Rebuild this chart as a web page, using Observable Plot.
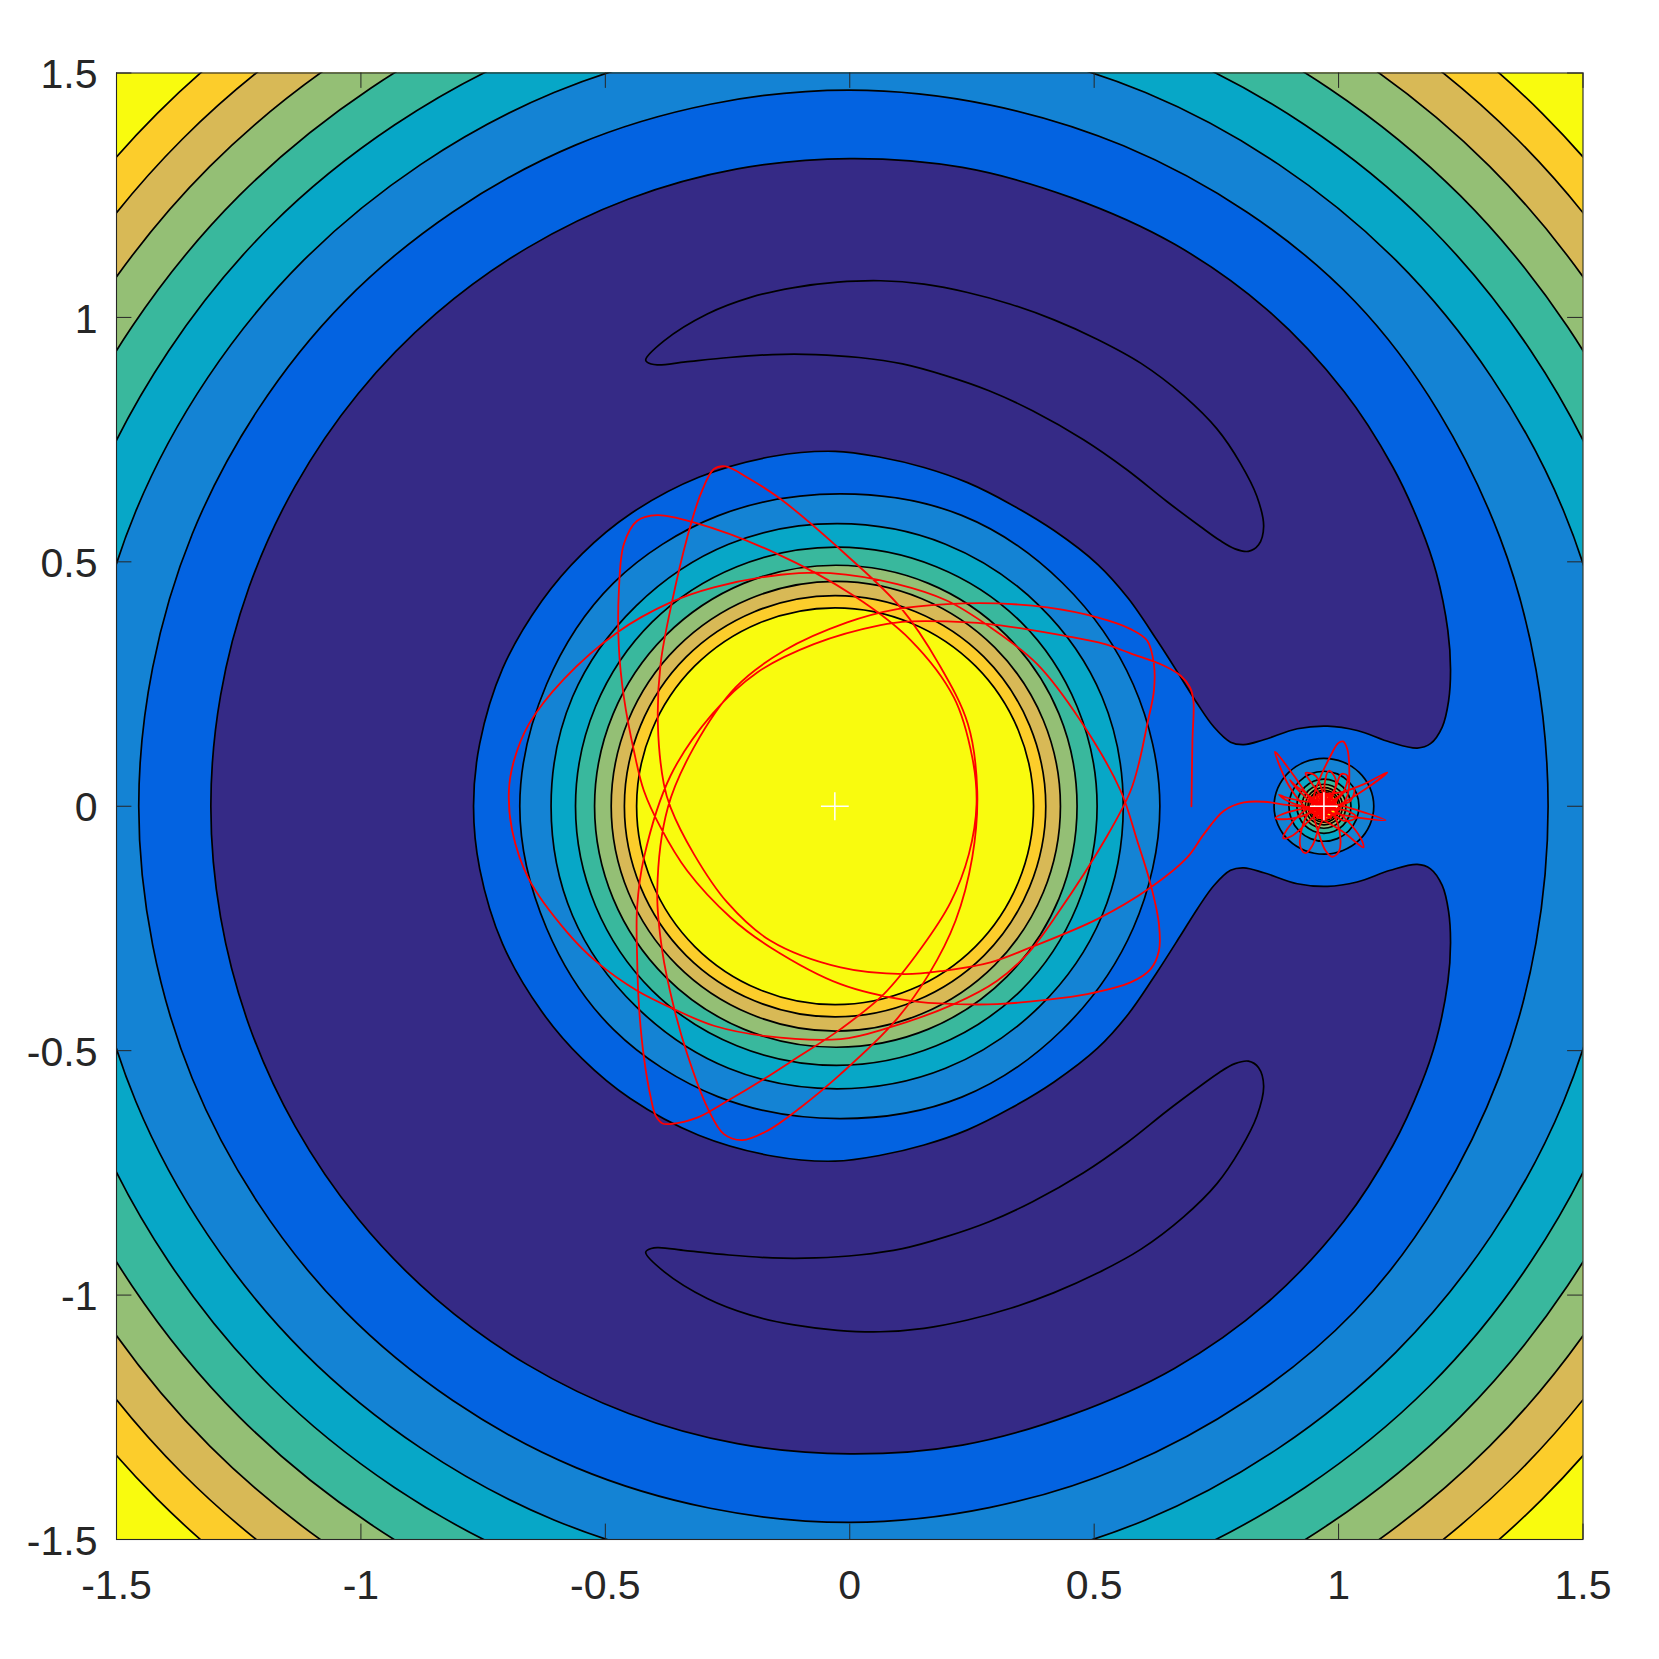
<!DOCTYPE html>
<html><head><meta charset="utf-8">
<style>html,body{margin:0;padding:0;background:#fff;overflow:hidden}</style>
<script src="https://cdn.jsdelivr.net/npm/d3@7"></script>
<script src="https://cdn.jsdelivr.net/npm/@observablehq/plot@0.6"></script>
</head><body><div id="chart"></div>
<script>
const tickValues=[-1.5,-1,-0.5,0,0.5,1,1.5];
const colors={yellow:"#f9fb0e",orange:"#fccd2b",tan:"#d8b956",green:"#94bf75",teal:"#39b89d",cyan:"#07a7c7",mid:"#1483d4",blue:"#0363e1",dark:"#352a86"};

// Upper halves of the contours; each is symmetric about y = 0
const outerOrange=[[2.004,0],[1.851,.767],[1.417,1.417],[.767,1.851],[0,2.004],[-.767,1.851],[-1.417,1.417],[-1.851,.767],[-2.004,0]];
const outerTan=[[1.93,0],[1.783,.739],[1.365,1.365],[.739,1.783],[0,1.93],[-.739,1.783],[-1.365,1.365],[-1.783,.739],[-1.93,0]];
const outerGreen=[[1.851,0],[1.71,.708],[1.309,1.309],[.708,1.71],[0,1.851],[-.708,1.71],[-1.309,1.309],[-1.71,.708],[-1.851,0]];
const outerTeal=[[1.767,0],[1.633,.676],[1.249,1.249],[.676,1.633],[0,1.767],[-.676,1.633],[-1.249,1.249],[-1.633,.676],[-1.767,0]];
const outerCyan=[[1.677,0],[1.549,.642],[1.186,1.186],[.642,1.549],[0,1.677],[-.642,1.549],[-1.186,1.186],[-1.549,.642],[-1.677,0]];
const outerMid=[[1.58,0],[1.46,.605],[1.117,1.117],[.605,1.46],[0,1.58],[-.605,1.46],[-1.117,1.117],[-1.46,.605],[-1.58,0]];
const outerBlue=[[1.4286,0],[1.33,.55],[1.033,1.033],[.56,1.351],[0,1.465],[-.56,1.353],[-1.033,1.033],[-1.345,.557],[-1.4545,0]];
const darkC=[[-1.307,0],[-1.2871,.227],[-1.2291,.4474],[-1.1345,.655],[-1.0058,.844],[-.8459,1.0081],[-.6595,1.1423],[-.4522,1.2423],[-.2299,1.3039],[0,1.325],[.2304,1.3068],[.4532,1.2451],[.664,1.15],[.853,1.0165],[1.0112,.8485],[1.111,.694],[1.1684,.5699],[1.2,.477],[1.2235,.36],[1.229,.28],[1.225,.215],[1.212,.162],[1.188,.128],[1.161,.119],[1.106,.131],[1.038,.155],[.977,.164],[.9155,.1585],[.847,.136],[.806,.126],[.779,.131],[.745,.162],[.711,.21],[.677,.264],[.629,.339],[.57,.425],[.507,.495],[.418,.564],[.329,.618],[.241,.662],[.152,.693],[.063,.714],[-.03,.726],[-.156,.716],[-.309,.673],[-.449,.598],[-.547,.517],[-.63,.42],[-.71,.282],[-.757,.128],[-.7696,0]];
const banana=[[-.4175,.913],[-.38,.952],[-.2915,1.007],[-.203,1.041],[-.114,1.061],[-.025,1.072],[.063,1.075],[.152,1.068],[.241,1.051],[.329,1.027],[.418,.995],[.507,.955],[.596,.906],[.683,.84],[.7512,.772],[.7989,.702],[.833,.6337],[.8467,.5723],[.8364,.5348],[.8155,.5215],[.788,.5265],[.756,.5445],[.7171,.5723],[.6488,.6234],[.567,.6883],[.4783,.7497],[.374,.809],[.285,.85],[.196,.881],[.108,.905],[.019,.918],[-.07,.924],[-.158,.924],[-.247,.918],[-.336,.909],[-.394,.903],[-.414,.908]];
const ringMid=[[.6344,0],[.58,.249],[.4347,.4572],[.229,.595],[-.02,.639],[-.27,.594],[-.483,.457],[-.62,.25],[-.675,0]];
const ringCyan=[[.5595,0],[.516,.224],[.388,.41],[.196,.536],[-.026,.578],[-.248,.536],[-.437,.41],[-.567,.224],[-.611,0]];
const ringTeal=[[.506,0],[.465,.204],[.35,.377],[.177,.49],[-.027,.53],[-.231,.49],[-.404,.377],[-.52,.204],[-.561,0]];
const ringGreen=[[.465,0],[.428,.189],[.321,.349],[.161,.456],[-.028,.493],[-.217,.456],[-.377,.349],[-.484,.189],[-.522,0]];
const ringTan=[[.431,0],[.396,.176],[.2965,.325],[.1475,.4246],[-.0285,.46],[-.2045,.4246],[-.3535,.325],[-.453,.176],[-.488,0]];
const ringOrange=[[.401,0],[.368,.165],[.275,.305],[.135,.398],[-.03,.431],[-.195,.398],[-.335,.305],[-.428,.165],[-.461,0]];
const ringYellow=[[.376,0],[.345,.155],[.257,.287],[.125,.375],[-.03,.406],[-.185,.375],[-.317,.287],[-.405,.155],[-.436,0]];
const moonMid=[[1.072,0],[1.0642,.0375],[1.0421,.0695],[1.009,.0905],[.97,.098],[.931,.0905],[.8979,.0695],[.8758,.0375],[.868,0]];
const moonCyan=[[1.0417,0],[1.0362,.0274],[1.0206,.0506],[.9974,.0662],[.97,.0716],[.9426,.0662],[.9194,.0506],[.9038,.0274],[.8984,0]];
const moonTeal=[[1.0253,0],[1.0211,.0212],[1.0091,.0391],[.9912,.0511],[.97,.0553],[.9488,.0511],[.9309,.0391],[.9189,.0212],[.9147,0]];
const moonGreen=[[1.015,0],[1.0116,.0172],[1.0018,.0318],[.9872,.0416],[.97,.045],[.9528,.0416],[.9382,.0318],[.9284,.0172],[.925,0]];
const moonTan=[[1.008,0],[1.0051,.0145],[.9969,.0269],[.9845,.0351],[.97,.038],[.9555,.0351],[.9431,.0269],[.9349,.0145],[.932,0]];
const moonOrange=[[1.0026,0],[1.0001,.0125],[.9931,.0231],[.9825,.0301],[.97,.0326],[.9575,.0301],[.9469,.0231],[.9399,.0125],[.9374,0]];
const moonYellow=[[.9987,0],[.9965,.011],[.9903,.0203],[.981,.0265],[.97,.0287],[.959,.0265],[.9497,.0203],[.9435,.011],[.9413,0]];

const primaries=[[-.0305,0],[.97,0]];

// Trajectory, read strand by strand
const pathLeg1=[[.699,0],[.701,.134],[.703,.216],[.696,.243],[.677,.267],[.643,.2875],[.5745,.3127],[.52,.332],[.438,.349],[.363,.362],[.281,.373],[.199,.378],[.124,.378],[.063,.3707],[-.0734,.3318],[-.1893,.2738],[-.2814,.1886],[-.3666,.0624],[-.421,-.105],[-.435,-.207],[-.435,-.309],[-.431,-.412],[-.421,-.514],[-.407,-.596],[-.397,-.633],[-.383,-.649],[-.3666,-.65],[-.312,-.637],[-.2506,-.603],[-.1756,-.558],[-.1074,-.514],[-.0188,-.4559],[.0698,-.3843],[.1448,-.2922],[.2062,-.1968],[.2437,-.0979],[.2594,.0044]];
const pathLeg2=[[.2506,.1],[.213,.2226],[.1244,.34],[.0084,.4305],[-.155,.5193],[-.3188,.5806],[-.3938,.5957],[-.4348,.584],[-.462,.5363],[-.4723,.4408],[-.4723,.3249],[-.462,.2226],[-.4416,.1135],[-.4211,.0317],[-.387,-.0433],[-.3325,-.132],[-.2438,-.2275],[-.162,-.2888],[-.0187,-.3639],[.1244,-.398],[.2199,-.4048],[.3017,-.4048],[.3972,-.3966],[.4858,-.3843],[.5745,-.3604],[.6154,-.3332],[.6325,-.2957],[.6325,-.2411],[.6154,-.1593],[.5881,-.0706],[.5541,.0317],[.4722,.1749],[.3835,.2908],[.2881,.3658],[.1994,.4204],[.097,.4545],[-.0393,.477]];
const pathLeg3=[[-.1415,.4736],[-.2779,.4477],[-.3666,.417],[-.4757,.3556],[-.5848,.2601],[-.6564,.168],[-.687,.093],[-.6973,.0317],[-.6905,-.0501],[-.6564,-.149],[-.578,-.258],[-.5166,-.3195],[-.4348,-.3775],[-.3597,-.415],[-.2779,-.449],[-.1756,-.4696],[-.0187,-.4764],[.0766,-.4539],[.213,-.4048],[.3017,-.357],[.3631,-.3025],[.4244,-.2206],[.5268,-.0604],[.5745,.0317],[.592,.09],[.6086,.168],[.6222,.2362],[.6222,.2908],[.6086,.3386],[.5745,.3624],[.5063,.3863],[.404,.4067],[.3017,.4149],[.1994,.4136],[.097,.4033]];
const pathLeg4=[[-.0052,.3761],[-.1347,.3181],[-.2336,.2431],[-.3189,.1204],[-.3721,-.0024],[-.3938,-.173],[-.3836,-.2957],[-.3597,-.4116],[-.3325,-.507],[-.2915,-.616],[-.2574,-.6708],[-.2199,-.683],[-.1688,-.664],[-.1006,-.6162],[-.0188,-.548],[.0903,-.4423],[.1619,-.3434],[.2164,-.2343],[.2506,-.1047],[.2608,.0317]];
const pathLeg5=[[.2417,.1681],[.1823,.2908],[.1039,.4067],[-.0052,.5124],[-.1415,.6284],[-.2097,.6727],[-.254,.6952],[-.2779,.6898],[-.305,.6386],[-.3325,.55],[-.3631,.4204],[-.387,.2908],[-.3925,.168],[-.3803,.0453],[-.3666,-.0024],[-.3188,-.0979],[-.2506,-.1968],[-.162,-.2752],[-.0187,-.3298],[.1111,-.3434],[.1926,-.3366],[.288,-.3195],[.3699,-.2888],[.5063,-.2309],[.6154,-.1661],[.69,-.105],[.7245,-.057],[.7655,-.0092],[.8064,.0078],[.8473,.0092],[.8814,.0044]];
const pathRosette=[[.9394,-.0038],[1.0178,-.0195],[1.0962,-.0283],[1.0246,-.0038],[.9735,.0112],[.9598,.0235],[1.0041,.0283],[1.0519,.0453],[1.0996,.0692],[1.0519,.033],[1.0041,.0044],[.9666,-.0079],[.9496,.0146],[.9598,.0521],[.9837,.1033],[.9987,.1285],[1.0089,.1326],[1.0178,.1169],[1.0219,.0726],[1.0178,.0214],[.9973,-.0058],[.97,-.0038],[.9462,.0112],[.9087,.0624],[.878,.1033],[.8698,.1115],[.878,.0862],[.8984,.0419],[.9291,.001],[.9666,-.0263],[1.011,-.0536],[1.0417,-.0788],[1.0505,-.0843],[1.0485,-.072],[1.0246,-.0368],[.9939,-.0092],[.9666,.0044],[.9496,-.0092],[.9598,-.057],[.9735,-.091],[.9871,-.1033],[1.0007,-.0925],[1.0028,-.057],[.9905,-.0195],[.9666,-.0011],[.9428,-.0092],[.9237,-.0502],[.9223,-.0843],[.9325,-.0959],[.9462,-.0808],[.9598,-.0433],[.9735,-.0092],[.953,.0044],[.9223,-.0155],[.895,-.0467],[.8868,-.0652],[.9053,-.0604],[.9394,-.03],[.9666,-.0038],[.9359,-.0038],[.895,-.0127],[.8712,-.0242],[.895,-.0263],[.9359,-.0161],[.9666,.0044],[.9223,.0112],[.8882,.0194],[.878,.0235],[.895,.0112],[.9359,-.0011],[.97,-.0011],[.9394,.0215],[.9087,.0453],[.9005,.0535],[.9155,.0351],[.953,.0044],[.97,.0078],[.9462,.0453],[.9325,.0678],[.953,.0624],[.9666,.0315],[.9735,.0044],[.9714,.0453],[.9803,.0726],[.9939,.0555],[.9871,.018],[.9714,-.0011],[.9939,.0385],[1.0055,.0658],[1.0178,.0624],[1.0076,.0249],[.9735,-.0024],[1.011,.0283],[1.0314,.0351],[1.0246,.0112],[.9803,-.0041],[1.0178,-.0093],[1.0369,-.0229],[1.011,-.0297],[.9755,-.0058],[.9905,-.0195],[.9564,.0211],[.9871,.0211],[.9496,-.0195],[.9939,.0041],[.9462,-.0041],[.9837,-.0195],[.9632,.0235],[.9428,.0075],[.9973,-.0061],[.97,-.027],[.97,.0249],[.9428,-.0095],[.996,.0112],[.9598,-.0242],[.9803,.0235],[.9462,.0146],[.9939,-.016]];
const pathCore=[[.998,0],[.9458,.014],[.984,-.0242],[.97,.028],[.956,-.0242],[.9942,.014],[.942,0],[.9942,-.014],[.956,.0242],[.97,-.028],[.984,.0242],[.9458,-.014],[.9874,.0047],[.9526,.0047],[.9827,-.0127],[.9653,.0174],[.9653,-.0174],[.9827,.0127],[.9526,-.0047],[.9874,-.0047],[.9573,.0127],[.9747,-.0174],[.9747,.0174],[.9573,-.0127],[.97,0]];

const mirror=upper=>upper.concat(upper.slice(1,-1).reverse().map(([x,y])=>[x,-y]));
const loop=(pts,fill)=>Plot.line(pts,{x:d=>d[0],y:d=>d[1],fill,stroke:"#000",strokeWidth:1.7,curve:"catmull-rom-closed",clip:"frame"});

const bands=[
 [outerOrange,colors.orange],[outerTan,colors.tan],[outerGreen,colors.green],[outerTeal,colors.teal],[outerCyan,colors.cyan],[outerMid,colors.mid],[outerBlue,colors.blue],[darkC,colors.dark],
 [ringMid,colors.mid],[ringCyan,colors.cyan],[ringTeal,colors.teal],[ringGreen,colors.green],[ringTan,colors.tan],[ringOrange,colors.orange],[ringYellow,colors.yellow],
 [moonMid,colors.mid],[moonCyan,colors.cyan],[moonTeal,colors.teal],[moonGreen,colors.green],[moonTan,colors.tan],[moonOrange,colors.orange],[moonYellow,colors.yellow]
];
const trajectory=[...pathLeg1,...pathLeg2,...pathLeg3,...pathLeg4,...pathLeg5,...pathRosette,...pathCore];
const axisColor="#262626", tickLen=0.0315, font="'Liberation Sans',Arial,sans-serif";

const chart=Plot.plot({
 width:1659,height:1659,marginLeft:116,marginRight:76.5,marginTop:72.5,marginBottom:120,
 style:{background:"#fff",fontFamily:font},
 x:{domain:[-1.5,1.5]},y:{domain:[-1.5,1.5]},
 marks:[
  Plot.frame({fill:colors.yellow,stroke:null}),
  ...bands.map(([p,c])=>loop(mirror(p),c)),
  loop(banana,colors.dark),
  loop(banana.map(([x,y])=>[x,-y]),colors.dark),
  Plot.line(trajectory,{x:d=>d[0],y:d=>d[1],stroke:"#ff0000",strokeWidth:1.8,curve:"catmull-rom"}),
  Plot.dot(primaries,{x:d=>d[0],y:d=>d[1],symbol:"plus",r:9,stroke:"#fff",strokeWidth:1.5}),
  Plot.ruleX(tickValues,{y1:-1.5,y2:-1.5+tickLen,stroke:axisColor,strokeWidth:1}),
  Plot.ruleX(tickValues,{y1:1.5,y2:1.5-tickLen,stroke:axisColor,strokeWidth:1}),
  Plot.ruleY(tickValues,{x1:-1.5,x2:-1.5+tickLen,stroke:axisColor,strokeWidth:1}),
  Plot.ruleY(tickValues,{x1:1.5,x2:1.5-tickLen,stroke:axisColor,strokeWidth:1}),
  Plot.frame({stroke:axisColor,strokeWidth:1.1}),
  Plot.axisX(tickValues,{anchor:"bottom",tickSize:0,tickPadding:30,fontSize:41,fontFamily:font,color:axisColor,tickFormat:d=>String(d),label:null}),
  Plot.axisY(tickValues,{anchor:"left",tickSize:0,tickPadding:19,dy:2,fontSize:41,fontFamily:font,color:axisColor,tickFormat:d=>String(d),label:null})
 ]
});
document.getElementById("chart").appendChild(chart);
</script></body></html>
